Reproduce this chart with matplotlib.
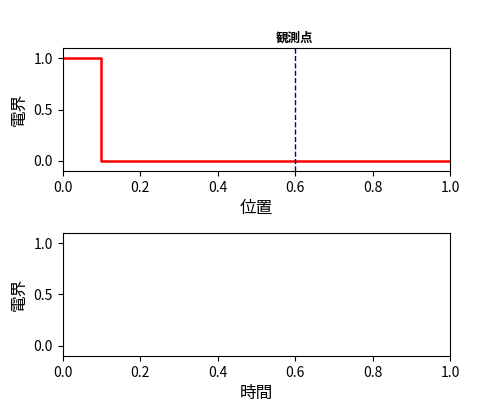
import matplotlib
matplotlib.use("Agg")
import matplotlib.pyplot as plt

plt.rcParams['font.family'] = ['Noto Sans CJK JP', 'DejaVu Sans']

# 初期の電界分布（位置）
pos = [0.0, 0.1, 1.0]
efield = [1.0, 0.0, 0.0]
obs_point = 0.6

fig, (ax1, ax2) = plt.subplots(2, 1, figsize=(5, 4), dpi=100)
fig.subplots_adjust(hspace=0.5)

ax1.plot(pos, efield, color='red', lw=1.8, drawstyle='steps-post')
ax1.axvline(obs_point, color='navy', ls='--', lw=1)
ax1.text(obs_point, 1.13, '観測点', ha='center', va='bottom', fontsize=9, fontweight='bold')
ax1.set_xlim(0, 1)
ax1.set_ylim(-0.1, 1.1)
ax1.set_xlabel('位置', fontsize=12)
ax1.set_ylabel('電界', fontsize=12)

ax2.set_xlim(0, 1)
ax2.set_ylim(-0.1, 1.1)
ax2.set_xlabel('時間', fontsize=12)
ax2.set_ylabel('電界', fontsize=12)

for ax in (ax1, ax2):
    ax.set_yticks([0.0, 0.5, 1.0])
    ax.tick_params(labelsize=10)

fig.savefig('out.png')
